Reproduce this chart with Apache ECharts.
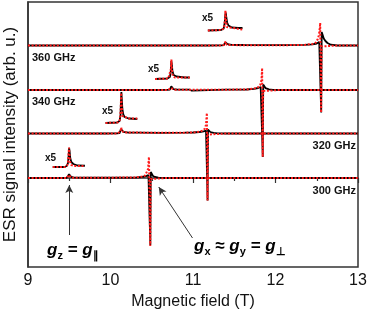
<!DOCTYPE html>
<html><head><meta charset="utf-8">
<script src="https://cdn.jsdelivr.net/npm/echarts@6/dist/echarts.min.js"></script>
<style>html,body{margin:0;padding:0;background:#fff}#c{width:368px;height:314px}</style>
</head><body><div id="c"></div>
<script>
// ---- data (field in T, intensity in arb. units relative to each trace baseline) ----
const xTickValues = [9, 10, 11, 12, 13];
const freqLabels = ['300 GHz', '320 GHz', '340 GHz', '360 GHz'];
const traceOffsets = [0, 44.5, 88, 132.5];
const insetOffsets = [11, 10.5, 11, 15];
const insetScale = 5;

const expGz300 = [[9.30,0],[9.44,0],[9.47,0.2],[9.485,0.8],[9.492,2.2],[9.498,3.8],[9.504,3.2],[9.512,1.8],[9.525,1.0],[9.55,0.6],[9.60,0.3],[9.69,0.25]];
const simGz300 = [[9.30,0],[9.45,0],[9.475,0.3],[9.487,1.2],[9.493,3.0],[9.497,3.9],[9.502,2.6],[9.51,1.0],[9.525,0.4],[9.56,0.2],[9.69,0.2]];
const expPerp300 = [[9.715,0.25],[9.72,-1],[9.726,0.2],[10.30,0.4],[10.38,1.0],[10.43,1.8],[10.46,2.8],[10.476,4],[10.483,-67],[10.488,6],[10.497,4],[10.515,2],[10.54,1],[10.58,0.4],[10.68,0]];
const simPerp300 = [[9.72,0.2],[10.30,0.5],[10.38,1.3],[10.42,2.5],[10.44,4.5],[10.455,9],[10.466,21],[10.482,-68],[10.487,-1],[10.497,0],[10.68,0]];

const expGz320 = [[9.94,0],[10.08,0.1],[10.11,0.4],[10.121,1.5],[10.127,4.5],[10.132,6.2],[10.137,4.8],[10.144,2.8],[10.155,1.7],[10.17,1.2],[10.22,0.9],[10.325,0.8]];
const simGz320 = [[9.94,0],[10.09,0.1],[10.113,0.6],[10.123,2.5],[10.130,6.0],[10.136,3.2],[10.145,1.4],[10.16,1.0],[10.22,0.9],[10.325,0.9]];
const expPerp320 = [[10.355,0.8],[10.36,-0.8],[10.366,0.7],[10.60,0.6],[10.90,0.8],[11.00,1.0],[11.08,1.5],[11.13,2.2],[11.158,3],[11.172,3.5],[11.177,-67],[11.182,4],[11.19,3],[11.21,1.5],[11.25,0.6],[11.30,0.2],[11.40,0]];
const simPerp320 = [[10.60,0.7],[10.90,0.8],[11.00,1.0],[11.08,1.8],[11.12,3],[11.145,5],[11.158,9],[11.168,20.5],[11.176,-67],[11.181,-1],[11.19,0],[11.40,0]];

const expGz340 = [[10.54,0],[10.69,0.1],[10.72,0.4],[10.731,1.5],[10.737,3.6],[10.743,3.0],[10.751,1.6],[10.765,0.8],[10.80,0.5],[10.90,0.3],[10.96,0.3]];
const simGz340 = [[10.54,0],[10.70,0.1],[10.724,0.5],[10.732,2.0],[10.738,3.9],[10.745,1.8],[10.755,0.6],[10.78,0.3],[10.96,0.3]];
const expPerp340 = [[10.98,0.3],[10.985,-0.7],[10.99,0.3],[11.40,0.3],[11.65,0.5],[11.74,1.2],[11.79,2.0],[11.82,3.0],[11.840,4],[11.846,-67],[11.851,5.5],[11.86,3.5],[11.88,1.8],[11.92,0.6],[11.97,0.2],[12.05,0]];
const simPerp340 = [[11.40,0.3],[11.65,0.5],[11.74,1.4],[11.79,2.8],[11.815,5],[11.83,10],[11.838,22],[11.845,-67],[11.85,-1],[11.86,0],[12.05,0]];

const expGz360 = [[11.18,0],[11.34,0.1],[11.372,0.4],[11.384,1.5],[11.391,3.0],[11.397,3.6],[11.404,2.6],[11.414,1.6],[11.43,1.0],[11.47,0.6],[11.55,0.5],[11.60,0.5]];
const simGz360 = [[11.18,0],[11.35,0.1],[11.377,0.5],[11.387,2.0],[11.393,4.0],[11.400,2.0],[11.41,0.7],[11.43,0.3],[11.60,0.2]];
const expPerp360 = [[11.64,0.4],[11.645,-0.8],[11.65,0.4],[12.10,0.4],[12.35,0.6],[12.45,1.2],[12.50,2],[12.53,3.5],[12.548,5],[12.554,-67],[12.56,13.5],[12.57,11],[12.585,7],[12.605,4.5],[12.63,2.5],[12.67,0.8],[12.75,0]];
const simPerp360 = [[11.65,0.2],[12.10,0.3],[12.35,0.6],[12.45,1.5],[12.49,3],[12.51,6],[12.525,10],[12.535,16],[12.542,22.5],[12.553,-67],[12.558,-1],[12.57,0],[12.75,0]];

const expGz = [expGz300, expGz320, expGz340, expGz360];
const simGz = [simGz300, simGz320, simGz340, simGz360];
const expPerp = [expPerp300, expPerp320, expPerp340, expPerp360];
const simPerp = [simPerp300, simPerp320, simPerp340, simPerp360];

// ---- build ----
const FONT = 'Liberation Sans';
function fullTrace(gz, perp) { return [[9, 0]].concat(gz, perp, [[13, 0]]); }
function shift(arr, off, scale) { return arr.map(p => [p[0], p[1] * scale + off]); }

const blackStyle = { color: '#000', width: 1.8 };
const redStyle = { color: '#ff1a1a', width: 2, type: [2, 1.6] };
const series = [];
for (let i = 0; i < 4; i++) {
  series.push({ type: 'line', symbol: 'none', z: 2, lineStyle: blackStyle,
    data: shift(fullTrace(expGz[i], expPerp[i]), traceOffsets[i], 1) });
  series.push({ type: 'line', symbol: 'none', z: 3, lineStyle: redStyle,
    data: shift(fullTrace(simGz[i], simPerp[i]), traceOffsets[i], 1) });
  series.push({ type: 'line', symbol: 'none', z: 2, lineStyle: blackStyle,
    data: shift(expGz[i], traceOffsets[i] + insetOffsets[i], insetScale) });
  series.push({ type: 'line', symbol: 'none', z: 3, lineStyle: redStyle,
    data: shift(simGz[i], traceOffsets[i] + insetOffsets[i], insetScale) });
}
// arrows
series[0].markLine = {
  silent: true, symbol: ['none', 'arrow'], symbolSize: [6, 8], animation: false,
  label: { show: false },
  lineStyle: { color: '#333', width: 1, type: 'solid' },
  data: [
    [{ coord: [9.5, -57] }, { coord: [9.5, -7] }],
    [{ coord: [10.994, -60] }, { coord: [10.585, -9] }]
  ]
};

const chart = echarts.init(document.getElementById('c'), null, { renderer: 'canvas' });
const gStyle = { fontFamily: FONT, fontWeight: 'bold', fontStyle: 'italic', fontSize: 17, lineHeight: 22, color: '#111' };
const subStyle = { fontFamily: FONT, fontWeight: 'bold', fontSize: 11, lineHeight: 13, verticalAlign: 'bottom', color: '#111' };
function txt(x, y, text, size, align) {
  return { type: 'text', x: x, y: y, style: { text: text, fontFamily: FONT, fontWeight: 'bold', fontSize: size,
    fill: '#111', align: align || 'left', verticalAlign: 'middle' } };
}
chart.setOption({
  animation: false,
  grid: { left: 28, right: 10, top: 2, bottom: 47, show: true, borderColor: '#333', borderWidth: 1.5,
    containLabel: false, outerBoundsMode: 'none' },
  xAxis: {
    type: 'value', min: 9, max: 13, interval: 1,
    name: 'Magnetic field (T)', nameLocation: 'middle', nameGap: 25,
    nameTextStyle: { fontFamily: FONT, fontSize: 16, color: '#111' },
    axisLine: { lineStyle: { color: '#333', width: 1.5 } },
    axisTick: { length: 5, lineStyle: { color: '#333', width: 1.2 } },
    minorTick: { show: true, splitNumber: 2, length: 3, lineStyle: { color: '#333', width: 1.2 } },
    splitLine: { show: false },
    axisLabel: { fontFamily: FONT, fontSize: 16, color: '#111', margin: 6,
      formatter: v => xTickValues.indexOf(v) >= 0 ? String(v) : '' }
  },
  yAxis: {
    type: 'value', min: -89, max: 176,
    name: 'ESR signal intensity (arb. u.)', nameLocation: 'middle', nameGap: 9,
    nameTextStyle: { fontFamily: FONT, fontSize: 17, color: '#111' },
    axisLine: { show: true, lineStyle: { color: '#333', width: 1.5 } },
    axisTick: { show: false }, axisLabel: { show: false }, splitLine: { show: false }
  },
  series: series,
  graphic: [
    txt(32, 58, freqLabels[3], 11), txt(32, 102, freqLabels[2], 11),
    txt(356, 146, freqLabels[1], 11, 'right'), txt(356, 191, freqLabels[0], 11, 'right'),
    txt(45, 158, 'x5', 10), txt(102, 111, 'x5', 10), txt(148, 69, 'x5', 10), txt(202, 18, 'x5', 10),
    { type: 'text', x: 47, y: 250, style: { text: '{g|g}{s|z}{g| = g}{s|∥}', verticalAlign: 'middle',
      rich: { g: gStyle, s: subStyle } } },
    { type: 'text', x: 194, y: 246, style: { text: '{g|g}{u|x}{g| ≈ g}{u|y}{g| = g}{u|⊥}', verticalAlign: 'middle',
      rich: { g: gStyle, u: subStyle } } }
  ]
});
</script></body></html>
